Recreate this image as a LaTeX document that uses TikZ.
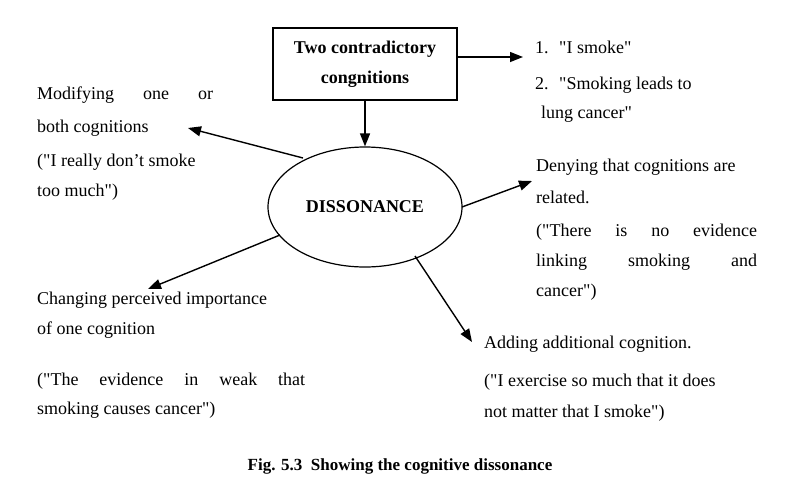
\documentclass[tikz,border=0pt]{standalone}
\usepackage{fontspec}
\setmainfont{Liberation Serif}
\usetikzlibrary{arrows.meta,shapes.geometric}
\newcommand{\qq}{\textquotedbl}
\begin{document}
\begin{tikzpicture}[x=1pt,y=-1pt,
  txt/.style={anchor=west,inner sep=0pt,font=\fontsize{18}{30}\selectfont},
  arr/.style={line width=1.4pt,-{Triangle[length=13pt,width=10pt]}}]
\useasboundingbox (0,0) rectangle (799,501);
\node[draw,line width=1.2pt,minimum width=184pt,minimum height=72pt,align=center,font=\fontsize{18}{30}\selectfont\bfseries] (box) at (365,64) {Two contradictory\\congnitions};
\node[draw,line width=1.2pt,ellipse,inner sep=0pt,minimum width=194pt,minimum height=120pt,font=\fontsize{18}{20}\selectfont\bfseries] (dis) at (365,207) {DISSONANCE};
\node[txt] (t1) at (535,47) {1. \ \qq I smoke\qq};
\node[txt] (t2) at (535,85) {2. \ \qq Smoking leads to};
\node[txt] at (541,114) {lung cancer\qq};
\node[txt] (m1) at (37,95) {\makebox[176pt][s]{Modifying one or}};
\node[txt] at (37,128) {both cognitions};
\node[txt] at (37,162) {(\qq I really don't smoke};
\node[txt] at (37,192) {too much\qq)};
\node[txt] (d1) at (536,167) {Denying that cognitions are};
\node[txt] at (536,197) {related.};
\node[txt] at (536,232) {\makebox[221pt][s]{(\qq There is no evidence}};
\node[txt] at (536,262) {\makebox[221pt][s]{linking smoking and}};
\node[txt] at (536,292) {cancer\qq)};
\node[txt] (c1) at (37,300) {Changing perceived importance};
\node[txt] at (37,330) {of one cognition};
\node[txt] at (37,381) {\makebox[268pt][s]{(\qq The evidence in weak that}};
\node[txt] at (37,410) {smoking causes cancer\qq)};
\node[txt] (a1) at (484,344) {Adding additional cognition.};
\node[txt] at (484,382) {(\qq I exercise so much that it does};
\node[txt] at (484,413) {not matter that I smoke\qq)};
\node[font=\fontsize{17}{20}\selectfont\bfseries] (cap) at (400,466) {Fig. 5.3 \ Showing the cognitive dissonance};
\coordinate (e1) at (523,57);
\draw[arr] (box.east |- e1) -- (e1);
\draw[arr] (box.south) -- (dis.north);
\coordinate (p1) at (303,158); \coordinate (q1) at (188,128);
\draw[arr] (p1) -- (q1);
\coordinate (p2) at (462,207); \coordinate (q2) at (532,181);
\draw[arr] (p2) -- (q2);
\coordinate (p3) at (280,235); \coordinate (q3) at (148,289);
\draw[arr] (p3) -- (q3);
\coordinate (p4) at (415,256); \coordinate (q4) at (472,342);
\draw[arr] (p4) -- (q4);
\end{tikzpicture}
\end{document}
